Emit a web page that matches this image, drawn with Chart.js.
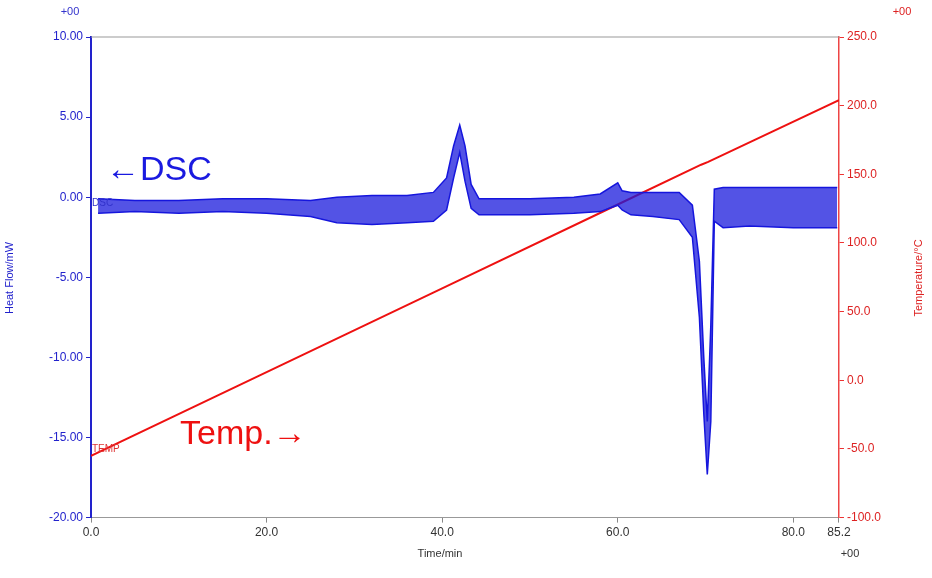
<!DOCTYPE html>
<html><head><meta charset="utf-8">
<script src="https://cdn.jsdelivr.net/npm/chart.js@4"></script>
<style>body{margin:0;background:#fff}#wrap{width:932px;height:578px}</style>
</head><body><div id="wrap"><canvas id="c"></canvas></div>
<script>
// DSC band (modulated signal drawn as envelope)
const dscTime  = [0.8, 5, 10, 15, 20, 25, 28, 32, 36, 39, 40.5, 41.3, 42.0, 42.6, 43.3, 44.2, 50, 55, 58, 60, 60.5, 61.5, 64, 67, 68.5, 69.3, 69.8, 70.2, 70.6, 71, 72, 75, 80, 85];
const dscUpper = [-0.1, -0.2, -0.2, -0.1, -0.1, -0.2, 0.0, 0.1, 0.1, 0.3, 1.2, 3.2, 4.5, 3.2, 0.8, -0.1, -0.1, 0.0, 0.2, 0.9, 0.4, 0.3, 0.3, 0.3, -0.5, -4.0, -10.0, -14.0, -8.0, 0.5, 0.6, 0.6, 0.6, 0.6];
const dscLower = [-1.0, -0.9, -1.0, -0.9, -1.0, -1.2, -1.6, -1.7, -1.6, -1.5, -0.8, 1.2, 2.8, 1.0, -0.7, -1.1, -1.1, -1.0, -0.9, -0.5, -0.8, -1.1, -1.2, -1.4, -2.5, -7.5, -13.5, -17.3, -14.0, -1.5, -1.9, -1.8, -1.9, -1.9];
// temperature ramp
const tempTime = [0, 20, 40, 60, 69.5, 70.3, 85.2];
const tempVal  = [-55, 6, 67, 128, 157, 159, 204];
const xTicks = [0, 20, 40, 60, 80, 85.2];
const leftTicks = [-20, -15, -10, -5, 0, 5, 10];
const rightTicks = [-100, -50, 0, 50, 100, 150, 200, 250];

const pts = (xs, ys) => xs.map((x, i) => ({x: x, y: ys[i]}));
const F = 'Arial, "Liberation Sans", sans-serif';

const notes = {
  id: 'notes',
  afterDraw(ch) {
    const c = ch.ctx;
    c.save();
    c.font = '11px ' + F; c.fillStyle = '#3333cc';
    c.textAlign = 'center';
    c.fillText('+00', 70, 15);
    c.fillStyle = '#dd2222'; c.fillText('+00', 902, 15);
    c.fillStyle = '#333'; c.fillText('+00', 850, 557);
    c.fillText('Time/min', 440, 557);
    c.save(); c.translate(13, 278); c.rotate(-Math.PI / 2);
    c.fillStyle = '#2222cc'; c.fillText('Heat Flow/mW', 0, 0); c.restore();
    c.save(); c.translate(922, 278); c.rotate(-Math.PI / 2);
    c.fillStyle = '#dd2222'; c.fillText('Temperature/\u00b0C', 0, 0); c.restore();
    c.textAlign = 'left';
    c.font = '10px ' + F;
    c.fillStyle = '#3333cc'; c.fillText('DSC', 92, 206);
    c.fillStyle = '#dd3333'; c.fillText('TEMP', 92, 452);
    c.font = '34px ' + F;
    c.fillStyle = '#1a1ae0'; c.fillText('\u2190DSC', 106, 180);
    c.fillStyle = '#ee1111'; c.fillText('Temp.\u2192', 180, 444);
    c.restore();
  }
};

new Chart(document.getElementById('c'), {
  type: 'line',
  data: {
    datasets: [
      {data: pts(dscTime, dscUpper), yAxisID: 'y', borderColor: '#1515dd', backgroundColor: 'rgba(25,25,220,0.75)', borderWidth: 1.5, pointRadius: 0, fill: '+1', tension: 0},
      {data: pts(dscTime, dscLower), yAxisID: 'y', borderColor: '#1515dd', borderWidth: 1.5, pointRadius: 0, fill: false, tension: 0},
      {data: pts(tempTime, tempVal), yAxisID: 'y2', borderColor: '#ee1111', borderWidth: 2, pointRadius: 0, fill: false, tension: 0}
    ]
  },
  options: {
    responsive: true, maintainAspectRatio: false, animation: false,
    layout: {padding: {left: 46, right: 48, top: 37, bottom: 35}},
    plugins: {legend: {display: false}, tooltip: {enabled: false}},
    scales: {
      x: {type: 'linear', min: 0, max: 85.2,
        afterBuildTicks: s => { s.ticks = xTicks.map(v => ({value: v})); },
        grid: {drawOnChartArea: false, color: '#888', tickLength: 5},
        border: {color: '#999'},
        ticks: {color: '#333', font: {size: 12, family: F}, maxRotation: 0, callback: v => v.toFixed(1)}},
      y: {position: 'left', min: -20, max: 10,
        afterBuildTicks: s => { s.ticks = leftTicks.map(v => ({value: v})); },
        grid: {drawOnChartArea: false, color: '#2222cc', tickLength: 5},
        border: {color: '#2222cc', width: 2},
        ticks: {color: '#2222cc', font: {size: 12, family: F}, callback: v => v.toFixed(2)}},
      y2: {position: 'right', min: -100, max: 250,
        afterBuildTicks: s => { s.ticks = rightTicks.map(v => ({value: v})); },
        grid: {drawOnChartArea: false, color: '#ee3333', tickLength: 5},
        border: {color: '#ee4444', width: 1.5},
        ticks: {color: '#dd2222', font: {size: 12, family: F}, callback: v => v.toFixed(1)}}
    }
  },
  plugins: [notes, {
    id: 'topline',
    afterDraw(ch) {
      const a = ch.chartArea, c = ch.ctx;
      c.save(); c.strokeStyle = '#999'; c.lineWidth = 1;
      c.beginPath(); c.moveTo(a.left, a.top); c.lineTo(a.right, a.top); c.stroke(); c.restore();
    }
  }]
});
</script></body></html>
